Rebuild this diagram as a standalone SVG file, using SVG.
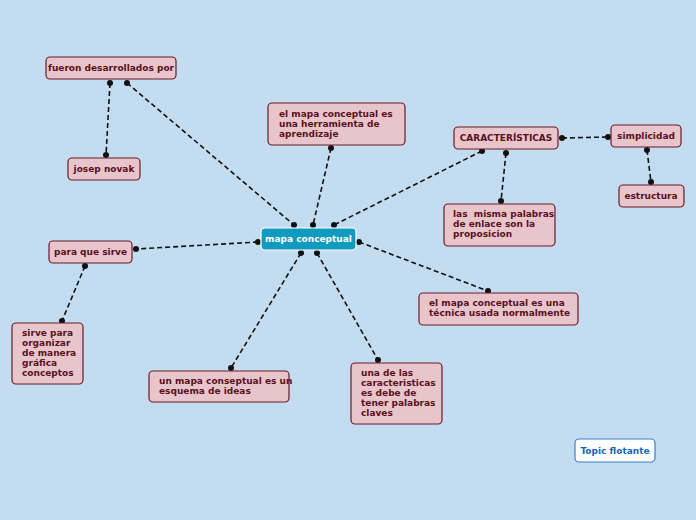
<svg xmlns="http://www.w3.org/2000/svg" width="696" height="520" viewBox="0 0 696 520">
<style>
.n rect{fill:#e8c5cb;stroke:#6b1a2a;stroke-width:1.2}
.n text{font-family:"DejaVu Sans",sans-serif;font-size:9px;font-weight:bold;fill:#5a1020}
.c line{stroke:#111;stroke-width:1.6;stroke-dasharray:5,3}
.c circle{fill:#111}
</style>
<rect width="696" height="520" fill="#c3dcf0"/>
<g class="c">
<line x1="127" y1="83" x2="294" y2="225"/><circle cx="127" cy="83" r="3"/><circle cx="294" cy="225" r="3"/>
<line x1="110" y1="83" x2="106" y2="155"/><circle cx="110" cy="83" r="3"/><circle cx="106" cy="155" r="3"/>
<line x1="331" y1="148" x2="313" y2="225"/><circle cx="331" cy="148" r="3"/><circle cx="313" cy="225" r="3"/>
<line x1="482" y1="151" x2="334" y2="225"/><circle cx="482" cy="151" r="3"/><circle cx="334" cy="225" r="3"/>
<line x1="506" y1="153" x2="501" y2="201"/><circle cx="506" cy="153" r="3"/><circle cx="501" cy="201" r="3"/>
<line x1="562" y1="138" x2="608" y2="137"/><circle cx="562" cy="138" r="3"/><circle cx="608" cy="137" r="3"/>
<line x1="647" y1="150" x2="651" y2="182"/><circle cx="647" cy="150" r="3"/><circle cx="651" cy="182" r="3"/>
<line x1="258" y1="242" x2="136" y2="249"/><circle cx="258" cy="242" r="3"/><circle cx="136" cy="249" r="3"/>
<line x1="85" y1="266" x2="62" y2="321"/><circle cx="85" cy="266" r="3"/><circle cx="62" cy="321" r="3"/>
<line x1="359" y1="242" x2="488" y2="291"/><circle cx="359" cy="242" r="3"/><circle cx="488" cy="291" r="3"/>
<line x1="301" y1="253" x2="231" y2="368"/><circle cx="301" cy="253" r="3"/><circle cx="231" cy="368" r="3"/>
<line x1="317" y1="253" x2="378" y2="360"/><circle cx="317" cy="253" r="3"/><circle cx="378" cy="360" r="3"/>
</g>
<g id="fueron" class="n"><rect x="46" y="57" width="130" height="22" rx="4"/><text x="111" y="71" text-anchor="middle">fueron desarrollados por</text></g>
<g id="josep" class="n"><rect x="68" y="158" width="72" height="22" rx="4"/><text x="104" y="172" text-anchor="middle">josep novak</text></g>
<g id="herramienta" class="n"><rect x="268" y="103" width="137" height="42" rx="4"/><text x="279" y="117">el mapa conceptual es</text><text x="279" y="127">una herramienta de</text><text x="279" y="137">aprendizaje</text></g>
<g id="caracteristicas" class="n"><rect x="454" y="127" width="104" height="22" rx="4"/><text x="506" y="141" text-anchor="middle">CARACTERÍSTICAS</text></g>
<g id="simplicidad" class="n"><rect x="611" y="125" width="70" height="22" rx="4"/><text x="646" y="139" text-anchor="middle">simplicidad</text></g>
<g id="estructura" class="n"><rect x="619" y="185" width="65" height="22" rx="4"/><text x="651" y="199" text-anchor="middle">estructura</text></g>
<g id="palabras" class="n"><rect x="444" y="204" width="111" height="42" rx="4"/><text x="453" y="217" xml:space="preserve">las  misma palabras</text><text x="453" y="227">de enlace son la</text><text x="453" y="237">proposicion</text></g>
<g id="center"><rect x="261" y="228" width="95" height="22" rx="4" fill="#0f9bbd" stroke="#fff" stroke-width="1.2"/><text x="308.5" y="242" text-anchor="middle" font-family="DejaVu Sans,sans-serif" font-size="9" font-weight="bold" fill="#fff">mapa conceptual</text></g>
<g id="paraque" class="n"><rect x="49" y="241" width="83" height="22" rx="4"/><text x="90.5" y="255" text-anchor="middle">para que sirve</text></g>
<g id="tecnica" class="n"><rect x="419" y="293" width="159" height="32" rx="4"/><text x="429" y="306">el mapa conceptual es una</text><text x="429" y="316">técnica usada normalmente</text></g>
<g id="sirve" class="n"><rect x="12" y="323" width="71" height="61" rx="4"/><text x="22" y="336">sirve para</text><text x="22" y="346">organizar</text><text x="22" y="356">de manera</text><text x="22" y="366">gráfica</text><text x="22" y="376">conceptos</text></g>
<g id="esquema" class="n"><rect x="149" y="371" width="140" height="31" rx="4"/><text x="159" y="384">un mapa conseptual es un</text><text x="159" y="394">esquema de ideas</text></g>
<g id="unadelas" class="n"><rect x="351" y="363" width="91" height="61" rx="4"/><text x="361" y="376">una de las</text><text x="361" y="386">caracteristicas</text><text x="361" y="396">es debe de</text><text x="361" y="406">tener palabras</text><text x="361" y="416">claves</text></g>
<g id="flotante"><rect x="575" y="439" width="80" height="23" rx="4" fill="#fff" stroke="#3b7fc8" stroke-width="1.2"/><text x="615" y="454" text-anchor="middle" font-family="DejaVu Sans,sans-serif" font-size="9" font-weight="bold" fill="#1565c0">Topic flotante</text></g>
</svg>
